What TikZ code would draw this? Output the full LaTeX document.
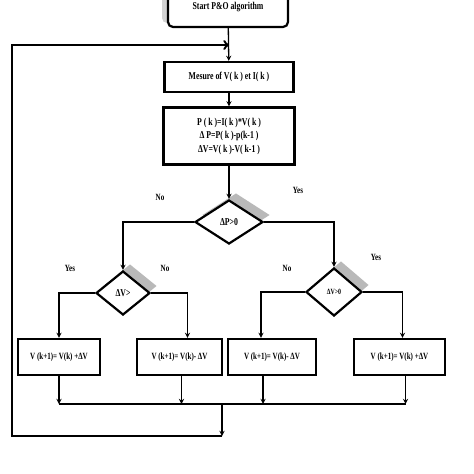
\documentclass[tikz,border=0pt]{standalone}
\usepackage{fontspec}
\setmainfont{Liberation Serif}[FakeStretch=0.74]
\usetikzlibrary{shapes.geometric}
\usetikzlibrary{shadows}

\begin{document}
\begin{tikzpicture}[x=1pt,y=-1pt,
  font=\fontsize{10.5}{13.5}\selectfont\bfseries,
  box/.style={draw,line width=2.2pt,minimum height=30pt,align=center,inner sep=2pt},
  startbox/.style={box,fill=white,rounded corners=5pt,general shadow={fill=gray!35,shadow xshift=-6pt,shadow yshift=4pt}},
  test/.style={diamond,draw,fill=white,line width=2.2pt,inner sep=0pt,general shadow={fill=gray!55,shadow xshift=7pt,shadow yshift=7pt}},
  result/.style={box,minimum height=36pt,font=\fontsize{9.5}{10}\selectfont\bfseries},
  flow/.style={-stealth,line width=1.3pt},
  lbl/.style={font=\fontsize{9.5}{10}\selectfont\bfseries}]
  \useasboundingbox (0,0) rectangle (474,474);

  % main column
  \node[startbox,minimum width=120pt,minimum height=40pt] (start) at (228,7) {Start P\&O algorithm};
  \node[box,minimum width=129pt] (measure) at (229,77) {Mesure of V( k ) et I( k )};
  \node[box,minimum width=131pt,minimum height=57pt] (calc) at (229,136)
    {P ( k )=I( k )*V( k )\\Δ P=P( k )-p(k-1 )\\ΔV=V( k )-V( k-1 )};
  \node[test,minimum width=68pt,minimum height=44pt] (dP) at (229,222) {ΔP>0};
  \node[test,minimum width=54pt,minimum height=44pt] (dVa) at (123,293) {ΔV>};
  \node[test,minimum width=56pt,minimum height=48pt,font=\fontsize{8}{9}\selectfont\bfseries] (dVb) at (334,292) {ΔV>0};

  % results
  \node[result,minimum width=82pt] (inc1) at (59,357) {V (k+1)= V(k) +ΔV};
  \node[result,minimum width=85pt] (dec1) at (179.5,357) {V (k+1)= V(k)- ΔV};
  \node[result,minimum width=88pt] (dec2) at (272,357) {V (k+1)= V(k)- ΔV};
  \node[result,minimum width=91pt] (inc2) at (399.5,357) {V (k+1)= V(k) +ΔV};

  \node[lbl] (noP) at (160,197) {No};
  \node[lbl] (yesP) at (298,190) {Yes};
  \node[lbl] (yesA) at (70,268) {Yes};
  \node[lbl] (noA) at (165,268) {No};
  \node[lbl] (noB) at (287,268) {No};
  \node[lbl] (yesB) at (376,257) {Yes};

  \coordinate (entry) at (229,45);
  \coordinate (merge) at (222,404);
  \coordinate (back) at (222,436);
  \coordinate (side) at (12,436);
  \coordinate (f1) at (inc1.south);
  \coordinate (f2) at ([xshift=2pt]dec1.south);
  \coordinate (f3) at ([xshift=-9pt]dec2.south);
  \coordinate (f4) at ([xshift=6pt]inc2.south);

  \draw[flow] (start) -- (measure);
  \draw[flow] (measure) -- (calc);
  \draw[flow] (calc) -- (dP);
  \draw[flow] (dP.west) -| (dVa.north);
  \draw[flow] (dP.east) -| (dVb.north);
  \draw[flow] (dVa.west) -| (inc1.north);
  \draw[flow] (dVa.east) -| ([xshift=8pt]dec1.north);
  \draw[flow] (dVb.west) -| ([xshift=-11pt]dec2.north);
  \draw[flow] (dVb.east) -| ([xshift=3pt]inc2.north);

  % back to the measure
  \foreach \f in {f1,f2,f3,f4}
    \draw[flow] (\f) -- (\f |- merge);
  \draw[line width=2pt] (f1 |- merge) -- (f4 |- merge);
  \draw[flow] (merge) -- (back);
  \draw[->,line width=2.4pt] (back) -- (side) |- (entry);
\end{tikzpicture}
\end{document}
